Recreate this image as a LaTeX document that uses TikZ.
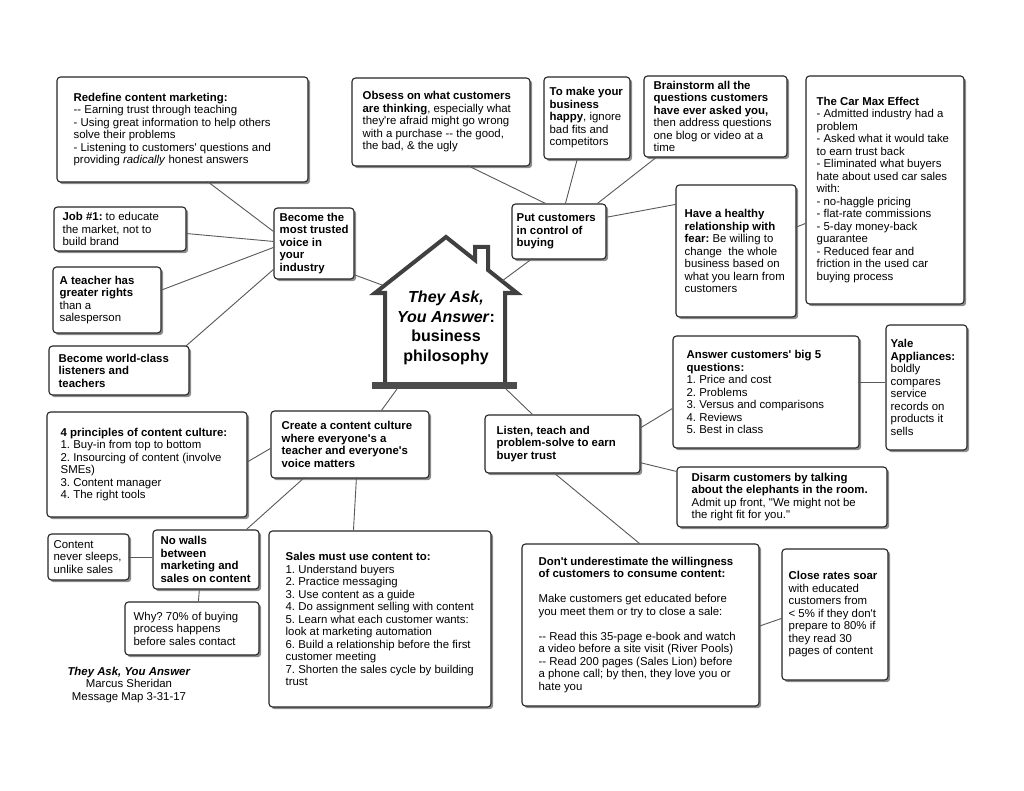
\documentclass[tikz,border=0pt]{standalone}
\usepackage{fontspec}
\newfontfamily\lsans{Liberation Sans}
\usetikzlibrary{shadows}
\frenchspacing
\tikzset{
  box/.style={draw=black!85, line width=1.1pt, rounded corners=3.5pt, fill=white,
    drop shadow={shadow xshift=2.2pt, shadow yshift=-2.2pt, opacity=0.45, fill=black}, inner sep=0pt},
  txt/.style={font=\lsans\frenchspacing\fontsize{11.4}{12.5}\selectfont, align=left, inner sep=0pt},
  conn/.style={draw=black!65, line width=0.9pt},
  housepen/.style={draw=black!75, line width=4pt, line join=miter},
  housebase/.style={fill=black!70},
  housetxt/.style={font=\lsans\bfseries\fontsize{16}{19.5}\selectfont, align=center, inner sep=0pt},
  foot/.style={font=\lsans\fontsize{11.4}{12.5}\selectfont, align=center, inner sep=0pt},
}
\newcommand\tbox[7]{%
  \node[box, minimum width={(#4)-(#2)}, minimum height={(#5)-(#3)}] (#1) at ({((#2)+(#4))/2},{((#3)+(#5))/2}) {};
  \node[txt, anchor=west] (#1t) at ([xshift=#6pt]#1.west) {#7};
}
\begin{document}
\begin{tikzpicture}[x=1pt,y=-1pt]
\fill[white] (0,0) rectangle (1024,791);
\useasboundingbox (0,0) rectangle (1024,791);

% ---------- house ----------
\draw[housepen] (385,383) -- (385,293) -- (375,293) -- (446,237) -- (475,260) -- (475,247)
  -- (488,247) -- (488,270) -- (517,293) -- (505,293) -- (505,383);
\fill[housebase] (372,382) rectangle (517,389);
\node[housetxt] (house) at (446,328) {\textit{They Ask,}\\ \textit{You Answer}:\\ business\\ philosophy};
\coordinate (hL) at (382,285);
\coordinate (hR) at (502,281);
\coordinate (hBL) at (397,389);
\coordinate (hBR) at (506,389);

% ---------- boxes ----------
\tbox{redef}{57}{77}{308}{182}{17}{\textbf{Redefine content marketing:}\\ {-}{-} Earning trust through teaching\\ - Using great information to help others\\ solve their problems\\ - Listening to customers' questions and\\ providing \textit{radically} honest answers}
\tbox{job}{54}{207}{186}{251}{9}{\textbf{Job \#1:} to educate\\ the market, not to\\ build brand}
\tbox{teacher}{53}{267}{161}{333}{7}{\textbf{A teacher has}\\ \textbf{greater rights}\\ than a\\ salesperson}
\tbox{world}{49}{346}{189}{395}{10}{\textbf{Become world-class}\\ \textbf{listeners and}\\ \textbf{teachers}}
\tbox{trusted}{274}{208}{354}{279}{6}{\textbf{Become the}\\ \textbf{most trusted}\\ \textbf{voice in}\\ \textbf{your}\\ \textbf{industry}}

\tbox{obsess}{352}{78}{530}{166}{11}{\textbf{Obsess on what customers}\\ \textbf{are thinking}, especially what\\ they're afraid might go wrong\\ with a purchase {-}{-} the good,\\ the bad, \& the ugly}
\tbox{tomake}{544}{77}{630}{159}{6}{\textbf{To make your}\\ \textbf{business}\\ \textbf{happy}, ignore\\ bad fits and\\ competitors}
\tbox{brain}{644}{76}{787}{157}{10}{\textbf{Brainstorm all the}\\ \textbf{questions customers}\\ \textbf{have ever asked you,}\\ then address questions\\ one blog or video at a\\ time}
\tbox{put}{512}{204}{606}{259}{5}{\textbf{Put customers}\\ \textbf{in control of}\\ \textbf{buying}}
\tbox{healthy}{676}{185}{796}{317}{9}{\textbf{Have a healthy}\\ \textbf{relationship with}\\ \textbf{fear:} Be willing to\\ change\ \ the whole\\ business based on\\ what you learn from\\ customers}
\tbox{carmax}{806}{76}{964}{304}{11}{\textbf{The Car Max Effect}\\ - Admitted industry had a\\ problem\\ - Asked what it would take\\ to earn trust back\\ - Eliminated what buyers\\ hate about used car sales\\ with:\\ - no-haggle pricing\\ - flat-rate commissions\\ - 5-day money-back\\ guarantee\\ - Reduced fear and\\ friction in the used car\\ buying process}

\tbox{yale}{886}{325}{967}{450}{5}{\textbf{Yale}\\ \textbf{Appliances:}\\ boldly\\ compares\\ service\\ records on\\ products it\\ sells}
\tbox{answer}{673}{336}{859}{448}{14}{\textbf{Answer customers' big 5}\\ \textbf{questions:}\\ 1. Price and cost\\ 2. Problems\\ 3. Versus and comparisons\\ 4. Reviews\\ 5. Best in class}
\tbox{listen}{485}{415}{640}{473}{12}{\textbf{Listen, teach and}\\ \textbf{problem-solve to earn}\\ \textbf{buyer trust}}
\tbox{disarm}{677}{467}{887}{527}{15}{\textbf{Disarm customers by talking}\\ \textbf{about the elephants in the room.}\\ Admit up front, "We might not be\\ the right fit for you."}
\tbox{dont}{522}{544}{759}{706}{17}{\textbf{Don't underestimate the willingness}\\ \textbf{of customers to consume content:}\\[12.5pt] Make customers get educated before\\ you meet them or try to close a sale:\\[12.5pt] {-}{-} Read this 35-page e-book and watch\\ a video before a site visit (River Pools)\\ {-}{-} Read 200 pages (Sales Lion) before\\ a phone call; by then, they love you or\\ hate you}
\tbox{close}{782}{549}{888}{680}{7}{\textbf{Close rates soar}\\ with educated\\ customers from\\ < 5\% if they don't\\ prepare to 80\% if\\ they read 30\\ pages of content}

\tbox{principles}{47}{412}{247}{517}{14}{\textbf{4 principles of content culture:}\\ 1. Buy-in from top to bottom\\ 2. Insourcing of content (involve\\ SMEs)\\ 3. Content manager\\ 4. The right tools}
\tbox{create}{271}{411}{429}{478}{11}{\textbf{Create a content culture}\\ \textbf{where everyone's a}\\ \textbf{teacher and everyone's}\\ \textbf{voice matters}}
\tbox{never}{48}{534}{129}{580}{6}{Content\\ never sleeps,\\ unlike sales}
\tbox{nowalls}{153}{530}{259}{589}{8}{\textbf{No walls}\\ \textbf{between}\\ \textbf{marketing and}\\ \textbf{sales on content}}
\tbox{why}{125}{602}{259}{655}{9}{Why? 70\% of buying\\ process happens\\ before sales contact}
\tbox{sales}{269}{531}{491}{707}{17}{\textbf{Sales must use content to:}\\ 1. Understand buyers\\ 2. Practice messaging\\ 3. Use content as a guide\\ 4. Do assignment selling with content\\ 5. Learn what each customer wants:\\ look at marketing automation\\ 6. Build a relationship before the first\\ customer meeting\\ 7. Shorten the sales cycle by building\\ trust}

\node[foot] (footer) at (129,685) {\textbf{\textit{They Ask, You Answer}}\\ Marcus Sheridan\\ Message Map 3-31-17};

% ---------- connectors ----------
\draw[conn] ([shift={(151,105)}]redef.north west) -- ([shift={(0,24)}]trusted.north west);
\draw[conn] ([shift={(132,27)}]job.north west) -- ([shift={(0,34)}]trusted.north west);
\draw[conn] ([shift={(108,24)}]teacher.north west) -- ([shift={(0,40)}]trusted.north west);
\draw[conn] ([shift={(137,1)}]world.north west) -- ([shift={(0,62)}]trusted.north west);
\draw[conn] ([shift={(80,67)}]trusted.north west) -- (hL);

\draw[conn] ([shift={(116,88)}]obsess.north west) -- ([shift={(34,0)}]put.north west);
\draw[conn] ([shift={(34,82)}]tomake.north west) -- ([shift={(54,0)}]put.north west);
\draw[conn] ([shift={(14,81)}]brain.north west) -- ([shift={(86,0)}]put.north west);
\draw[conn] ([shift={(94,14)}]put.north west) -- ([shift={(0,20)}]healthy.north west);
\draw[conn] ([shift={(21,55)}]put.north west) -- (hR);
\draw[conn] ([shift={(120,43)}]healthy.north west) -- ([shift={(0,148)}]carmax.north west);

\draw[conn] ([shift={(186,47)}]answer.north west) -- ([shift={(0,58)}]yale.north west);
\draw[conn] ([shift={(155,14)}]listen.north west) -- ([shift={(0,73)}]answer.north west);
\draw[conn] ([shift={(155,48)}]listen.north west) -- ([shift={(0,5)}]disarm.north west);
\draw[conn] (hBR) -- ([shift={(48,0)}]listen.north west);
\draw[conn] ([shift={(69,58)}]listen.north west) -- ([shift={(118,0)}]dont.north west);
\draw[conn] ([shift={(237,83)}]dont.north west) -- ([shift={(0,70)}]close.north west);

\draw[conn] ([shift={(200,51)}]principles.north west) -- ([shift={(0,38)}]create.north west);
\draw[conn] (hBL) -- ([shift={(111,0)}]create.north west);
\draw[conn] ([shift={(34,67)}]create.north west) -- ([shift={(94,0)}]nowalls.north west);
\draw[conn] ([shift={(86,67)}]create.north west) -- ([shift={(85,0)}]sales.north west);
\draw[conn] ([shift={(81,24)}]never.north west) -- ([shift={(0,28)}]nowalls.north west);
\draw[conn] ([shift={(47,59)}]nowalls.north west) -- ([shift={(74,0)}]why.north west);
\end{tikzpicture}
\end{document}
